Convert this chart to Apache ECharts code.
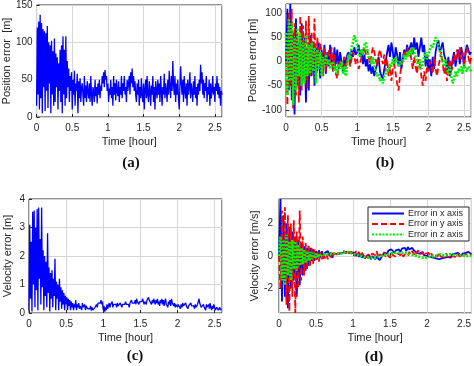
<!DOCTYPE html>
<html><head><meta charset="utf-8">
<script src="https://cdn.jsdelivr.net/npm/echarts@6/dist/echarts.min.js"></script>
<style>html,body{margin:0;padding:0;background:#fff}#c{width:474px;height:366px}</style>
</head><body><div id="c"></div>
<script>
// ---- data ----
const stepA = 0.01;   // sampling step (hour) for panels (a),(c)
const stepB = 0.02;   // sampling step (hour) for panels (b),(d)
const xTicks = ["0","0.5","1","1.5","2","2.5"];
const seriesNames = ["Error in x axis","Error in y axis","Error in z axis"];
const subLabels = ["(a)","(b)","(c)","(d)"];

const posErr = [15,120,30,128,10,137,25,126,5,118, 40,115,8,112,35,122,12,100,45,96, 5,102,30,88,15,105,20,85,40,80,
10,72,35,90,20,96,5,108,30,90, 15,108,25,75,40,65,20,55,35,60, 10,50,30,62,15,45,35,58,5,48,
25,52,20,40,45,30,15,55,25,42, 20,48,35,25,45,20,55,30,15,40, 35,20,50,28,40,18,45,30,50,25,
42,35,55,45,60,40,63,50,55,35, 45,20,38,30,50,25,40,15,55,30, 45,22,50,35,28,48,20,40,30,55,
25,45,35,55,30,40,20,50,35,45, 55,30,60,45,65,40,55,35,48,30, 20,45,30,50,15,40,25,52,30,20,
45,10,38,50,25,55,30,20,48,35, 15,42,30,55,20,40,10,48,35,25, 50,30,45,20,55,35,15,40,30,58,
25,45,35,20,50,30,62,40,25,55, 35,75,45,30,55,20,45,30,50,25, 10,40,68,45,30,50,20,55,35,25,
45,15,50,30,40,60,25,45,35,20, 48,30,55,25,40,15,45,30,50,35, 70,45,60,30,50,25,45,35,55,20,
40,30,50,15,45,25,35,55,30,40, 20,45,35,55,30,45,25,40,15,35, 30];

const velErr = [0.1,3.1,0.5,2.5,0.05,3.55,1.0,3.6,0.2,3.0, 0.8,3.65,0.1,3.7,1.2,2.6,0.3,3.7,0.9,2.2,
0.1,2.0,0.6,1.8,0.2,2.8,0.7,1.6,0.05,1.4, 0.5,1.5,0.2,1.2,0.6,1.9,0.1,1.1,0.5,1.0,
0.1,1.2,0.4,0.9,0.15,0.8,0.3,0.7,0.1,0.6, 0.3,0.55,0.1,0.5,0.25,0.45,0.1,0.4,0.2,0.35,
0.1,0.3,0.2,0.45,0.1,0.3,0.2,0.35,0.15,0.25, 0.3,0.1,0.35,0.2,0.15,0.3,0.1,0.25,0.2,0.15,
0.1,0.2,0.15,0.25,0.08,0.2,0.1,0.15,0.12,0.2, 0.25,0.3,0.2,0.35,0.3,0.4,0.35,0.45,0.3,0.4,
0.1,0.25,0.05,0.2,0.1,0.3,0.15,0.25,0.35,0.2, 0.3,0.25,0.4,0.2,0.3,0.35,0.25,0.3,0.2,0.35,
0.25,0.3,0.2,0.35,0.3,0.2,0.3,0.25,0.35,0.3, 0.4,0.3,0.35,0.25,0.3,0.2,0.35,0.4,0.45,0.35,
0.3,0.4,0.35,0.45,0.3,0.5,0.4,0.45,0.3,0.4, 0.35,0.45,0.4,0.5,0.45,0.3,0.4,0.35,0.3,0.45,
0.5,0.55,0.45,0.5,0.4,0.3,0.45,0.35,0.5,0.4, 0.3,0.45,0.35,0.5,0.3,0.4,0.25,0.45,0.35,0.5,
0.3,0.45,0.25,0.4,0.5,0.3,0.35,0.2,0.4,0.3, 0.45,0.25,0.5,0.35,0.3,0.25,0.35,0.2,0.3,0.25,
0.2,0.3,0.25,0.35,0.15,0.3,0.2,0.35,0.25,0.3, 0.2,0.35,0.25,0.3,0.15,0.25,0.2,0.3,0.35,0.25,
0.3,0.2,0.25,0.15,0.3,0.2,0.25,0.3,0.4,0.5, 0.35,0.3,0.2,0.25,0.15,0.3,0.2,0.25,0.1,0.3,
0.2,0.25,0.3,0.15,0.35,0.2,0.1,0.25,0.15,0.3, 0.2,0.1,0.15,0.2,0.25,0.1,0.15,0.2,0.1,0.15, 0.1];

const posX = [0,110,-60,120,-80,60,-110,90,-50,40, -70,80,-40,50,-85,30,-60,55,-30,40,
-50,30,-20,40,-35,25,-15,35,-25,20, -10,35,5,-20,30,-5,25,-15,20,0, -20,10,-10,15,20,-5,25,10,30,15,
20,35,10,25,-5,15,-10,5,-20,-5, -25,-10,-30,-15,-5,10,-20,-30,-35,-15, 0,20,35,10,40,20,-5,30,15,-10,
20,-15,5,25,10,35,20,30,40,15, 50,25,40,10,30,50,20,35,-10,15, -20,5,-30,10,-15,20,35,45,20,30,
40,15,5,-20,10,-30,-15,5,20,-10, 10,25,-5,30,15,-10,20,35,25,15, 20];
const posY = [20,-90,100,-50,110,-100,80,-70,60,-85, 95,-60,75,-40,85,-55,95,-30,60,-20,
90,-40,50,-10,40,20,-30,30,-20,10, 25,-5,30,-20,15,-25,-35,-10,5,-15, -5,10,-15,5,15,-10,5,20,10,-5,
5,-15,-5,10,20,30,15,25,10,-5, 15,30,20,5,-10,15,25,10,-5,15, -20,5,-30,-10,-40,-15,-5,-25,-45,-60,
-30,-10,5,20,10,30,15,25,5,-15, 10,-10,-25,5,-5,-30,-50,-20,-40,-10, -20,0,-10,-25,10,-15,-30,-10,5,20,
-5,-25,-10,-40,-15,5,-20,-10,15,0, 25,10,30,5,20,-10,15,30,10,-5, 10];
const posZ = [60,-70,90,-40,80,-90,50,-60,70,-30, 60,-50,40,-45,55,-30,35,-25,40,-20,
30,-45,25,-15,20,-30,10,-10,15,-5, 5,-15,-5,0,-20,-10,-25,-5,-15,0, -25,-10,-30,-5,15,5,30,40,55,45,
35,20,10,25,15,35,40,25,10,5, -5,10,-10,-20,-30,-25,-40,-35,-45,-30, -25,-15,-20,-5,-10,5,-5,10,0,-10,
0,-5,5,15,5,20,10,25,15,30, 20,10,0,-10,5,-15,-5,10,20,5, 15,25,35,30,40,50,45,35,25,10,
0,-10,5,-15,-25,-10,-30,-45,-35,-20, -30,-15,-20,-10,-25,-5,-15,-20,-10,-15, -20];

const velX = [0,3.5,-2.8,2.5,-2.5,2.0,-3.2,1.8,-2.0,1.5, -1.5,1.2,-2.5,1.0,-1.8,0.8,-1.2,0.6,-0.9,0.5,
-0.6,0.5,-0.3,0.4,-0.3,0.3,-0.2,0.35,-0.1,0.3, -0.15,0.2,0.1,0.3,0.0,0.2,-0.1,0.15,0.05,0.1,
0.0,0.15,0.05,0.2,0.1,0.25,0.15,0.2,0.3,0.2, 0.1,0.2,0.0,0.15,-0.05,0.1,-0.1,0.05,-0.15,0.0,
-0.1,0.05,-0.2,0.0,-0.1,-0.2,-0.05,-0.15,-0.25,-0.1, 0.0,0.2,0.3,0.15,0.35,0.25,0.4,0.3,0.2,0.35,
0.3,0.4,0.25,0.45,0.35,0.5,0.3,0.55,0.4,0.45, 0.5,0.35,0.45,0.2,0.3,0.15,0.1,0.25,0.05,0.15,
0.0,0.1,-0.05,0.05,-0.1,0.0,-0.15,-0.05,-0.2,-0.1, -0.15,-0.25,-0.1,-0.2,-0.05,0.05,-0.1,0.1,0.0,0.15,
0.05,0.2,0.1,0.0,0.15,0.05,0.2,0.1,0.25,0.15, 0.1];
const velY = [0,-2.0,2.8,-1.5,3.0,-3.0,2.5,-3.4,2.0,-2.5, 2.2,-3.5,1.5,-2.0,2.8,-1.5,1.2,-1.2,0.8,-0.8,
0.7,-0.6,0.5,-0.5,0.4,-0.3,0.3,-0.35,0.25,-0.2, 0.2,-0.15,0.1,-0.2,0.15,-0.1,0.2,-0.05,0.1,0.0,
0.15,0.05,0.2,0.1,0.3,0.15,0.35,0.2,0.1,0.25, 0.2,0.0,0.3,0.1,0.25,-0.05,0.2,0.05,0.15,-0.1,
0.1,0.2,0.0,0.15,0.25,0.05,0.3,-0.1,0.1,0.2, 0.0,0.25,-0.05,0.1,0.15,-0.1,0.2,0.05,0.1,-0.05,
0.15,0.25,0.05,0.2,-0.05,0.1,0.2,0.0,0.25,0.1, 0.3,0.15,0.0,0.2,0.35,0.1,0.05,0.2,0.0,0.15,
0.1,0.2,0.0,0.15,-0.1,0.05,0.1,-0.05,0.2,0.0, 0.1,-0.1,0.0,0.15,-0.05,0.05,-0.15,0.0,0.1,-0.05,
0.05,0.15,-0.05,0.1,0.2,0.0,0.15,0.25,0.05,0.15, 0.1];
const velZ = [0,1.2,-1.5,1.0,-1.8,1.3,-1.2,0.9,-1.5,1.0, -0.8,0.9,-0.9,0.7,-0.6,0.5,-0.5,0.4,-0.4,0.3,
-0.3,0.25,-0.2,0.2,-0.15,0.15,-0.1,0.15,-0.05,0.1, 0.0,0.1,0.05,0.1,0.05,0.1,0.1,0.15,0.1,0.15,
0.1,0.15,0.2,0.15,0.2,0.25,0.2,0.25,0.2,0.15, 0.15,0.1,0.1,0.05,0.05,0.0,0.0,-0.05,-0.05,-0.1,
-0.1,-0.1,-0.15,-0.1,-0.15,-0.1,-0.1,-0.05,-0.05,0.0, 0.0,0.05,0.05,0.1,0.1,0.15,0.15,0.2,0.2,0.2,
0.25,0.2,0.25,0.2,0.25,0.2,0.2,0.15,0.15,0.1, 0.1,0.05,0.05,0.0,0.0,-0.05,-0.05,-0.1,-0.05,-0.1,
-0.1,-0.05,-0.1,-0.05,-0.05,0.0,0.0,0.05,0.05,0.1, 0.1,0.05,0.1,0.05,0.1,0.1,0.05,0.1,0.05,0.05,
0.0,0.05,0.0,0.05,0.0,0.05,0.0,0.0,0.05,0.0, 0.0];

// ---- chart ----
const FONT = "'Liberation Sans', Arial, sans-serif";
const INK = '#262626';
const GREEN = '#00f000';
const pairs = (arr, step) => arr.map((v, i) => [+(i * step).toFixed(3), v]);

const grids = [
  {left: 33, top: 4, width: 189, height: 113},
  {left: 286, top: 4, width: 187, height: 113},
  {left: 29, top: 199, width: 193, height: 114},
  {left: 279, top: 199, width: 194, height: 114}
].map(g => Object.assign(g, {show: true, borderColor: INK, borderWidth: 1, backgroundColor: '#fff', containLabel: false}));

const xAx = (gi, nameGap) => ({
  type: 'value', gridIndex: gi, min: 0, max: 2.6, interval: 0.5,
  name: 'Time [hour]', nameLocation: 'middle', nameGap: nameGap,
  nameTextStyle: {fontFamily: FONT, fontSize: 11, color: INK},
  axisLine: {show: false},
  axisTick: {show: true, inside: true, length: 3, lineStyle: {color: INK}},
  axisLabel: {fontFamily: FONT, fontSize: 10, color: INK, margin: 6, showMaxLabel: false,
    formatter: v => { const i = Math.round(v / 0.5); return Math.abs(v - i * 0.5) < 1e-6 && xTicks[i] !== undefined ? xTicks[i] : ''; }},
  splitLine: {show: true, lineStyle: {color: '#d6d6d6', width: 1}}
});
const yAx = (gi, name, nameGap, extra) => Object.assign({
  type: 'value', gridIndex: gi,
  name: name, nameLocation: 'middle', nameGap: nameGap,
  nameTextStyle: {fontFamily: FONT, fontSize: 11, color: INK},
  axisLine: {show: false},
  axisTick: {show: true, inside: true, length: 3, lineStyle: {color: INK}},
  axisLabel: {fontFamily: FONT, fontSize: 10, color: INK, margin: 4, showMinLabel: true, showMaxLabel: true},
  splitLine: {show: true, lineStyle: {color: '#d6d6d6', width: 1}}
}, extra);

const lineS = (name, xi, data, step, color, type, width, z) => ({
  type: 'line', name: name, xAxisIndex: xi, yAxisIndex: xi, data: pairs(data, step),
  symbol: 'none', showSymbol: false, animation: false, z: z,
  lineStyle: {color: color, width: width, type: type}, itemStyle: {color: color}
});

const option = {
  animation: false,
  grid: grids,
  xAxis: [xAx(0, 19), xAx(1, 19), xAx(2, 19), xAx(3, 19)],
  yAxis: [
    yAx(0, 'Position error  [m]', 21, {min: 0, max: 150, interval: 50}),
    yAx(1, 'Position error [m]', 26, {min: -115, max: 120, splitNumber: 5,
      axisLabel: {fontFamily: FONT, fontSize: 10, color: INK, margin: 4, showMinLabel: false, showMaxLabel: false}}),
    yAx(2, 'Velocity error [m]', 16, {min: 0, max: 4, interval: 1}),
    yAx(3, 'Velocity error [m/s]', 16, {min: -3.5, max: 3.5, splitNumber: 3,
      axisLabel: {fontFamily: FONT, fontSize: 10, color: INK, margin: 6, showMinLabel: false, showMaxLabel: false}})
  ],
  legend: {
    data: seriesNames, orient: 'vertical', left: 368, top: 207,
    backgroundColor: '#fff', borderColor: INK, borderWidth: 1, borderRadius: 0,
    padding: [2, 6, 2, 3], itemGap: 1.5, itemWidth: 32, itemHeight: 11,
    itemStyle: {opacity: 0},
    textStyle: {fontFamily: FONT, fontSize: 9, color: INK, padding: [0, 0, 0, -1]},
    selectedMode: false
  },
  series: [
    lineS('A', 0, posErr, stepA, '#0000ff', 'solid', 1.3, 2),
    lineS(seriesNames[0], 1, posX, stepB, '#0000ff', 'solid', 1.8, 2),
    lineS(seriesNames[1], 1, posY, stepB, '#ff0000', [6, 3], 1.8, 3),
    lineS(seriesNames[2], 1, posZ, stepB, GREEN, [2, 1.5], 2.6, 4),
    lineS('C', 2, velErr, stepA, '#0000ff', 'solid', 1.3, 2),
    lineS(seriesNames[0], 3, velX, stepB, '#0000ff', 'solid', 1.8, 2),
    lineS(seriesNames[1], 3, velY, stepB, '#ff0000', [6, 3], 1.8, 3),
    lineS(seriesNames[2], 3, velZ, stepB, GREEN, [2, 1.5], 2.6, 4)
  ],
  graphic: [
    {type: 'text', x: 131, y: 163, style: {text: subLabels[0], font: "bold 15px 'Liberation Serif', 'Times New Roman', serif", fill: '#111', align: 'center', verticalAlign: 'middle'}},
    {type: 'text', x: 385, y: 163, style: {text: subLabels[1], font: "bold 15px 'Liberation Serif', 'Times New Roman', serif", fill: '#111', align: 'center', verticalAlign: 'middle'}},
    {type: 'text', x: 135, y: 356, style: {text: subLabels[2], font: "bold 15px 'Liberation Serif', 'Times New Roman', serif", fill: '#111', align: 'center', verticalAlign: 'middle'}},
    {type: 'text', x: 374, y: 357, style: {text: subLabels[3], font: "bold 15px 'Liberation Serif', 'Times New Roman', serif", fill: '#111', align: 'center', verticalAlign: 'middle'}}
  ]
};
const chart = echarts.init(document.getElementById('c'), null, {renderer: 'canvas'});
chart.setOption(option);
</script></body></html>
